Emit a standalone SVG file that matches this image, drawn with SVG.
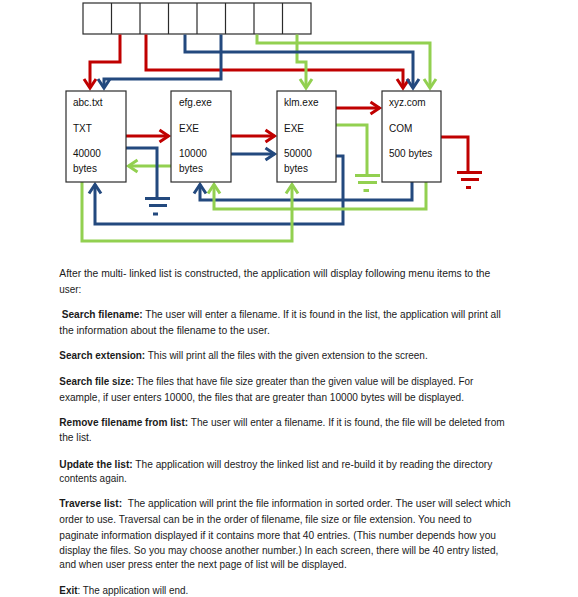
<svg xmlns="http://www.w3.org/2000/svg" width="578" height="597" viewBox="0 0 578 597">
<style>
.box{fill:#fff;stroke:#2b2b2b;stroke-width:1.2}
.lbl{font-family:"Liberation Sans",Arial,sans-serif;font-size:10px;fill:#111}
.body{font-family:"Liberation Sans",Arial,sans-serif;font-size:10.5px;fill:#1a1a1a}
.b{font-weight:bold}
.c{fill:none;stroke-width:3;stroke-linejoin:miter}
.r{stroke:#C00000}
.u{stroke:#23497E}
.g{stroke:#92D050}
.gr{fill:none;stroke-width:3}
</style>
<defs>
<marker id="mr" viewBox="-12 -9 14 18" refX="0" refY="0" markerWidth="14" markerHeight="18" markerUnits="userSpaceOnUse" orient="auto" overflow="visible"><path d="M-9,-6 L0,0 L-9,6" fill="none" stroke="#C00000" stroke-width="3"/></marker>
<marker id="mu" viewBox="-12 -9 14 18" refX="0" refY="0" markerWidth="14" markerHeight="18" markerUnits="userSpaceOnUse" orient="auto" overflow="visible"><path d="M-9,-6 L0,0 L-9,6" fill="none" stroke="#23497E" stroke-width="3"/></marker>
<marker id="mg" viewBox="-12 -9 14 18" refX="0" refY="0" markerWidth="14" markerHeight="18" markerUnits="userSpaceOnUse" orient="auto" overflow="visible"><path d="M-9,-6 L0,0 L-9,6" fill="none" stroke="#92D050" stroke-width="3"/></marker>
</defs>

<g id="array">
<rect x="83" y="3" width="228" height="31" class="box"/>
<path d="M111.5,3V34M140,3V34M168.5,3V34M197,3V34M225.5,3V34M254,3V34M282.5,3V34" stroke="#2b2b2b" stroke-width="1.2"/>
</g>

<g id="connectors">
<path class="c r" d="M120,34.5V62H90V88" marker-end="url(#mr)"/>
<path class="c r" d="M146,34.5V70H403V88" marker-end="url(#mr)"/>
<path class="c r" d="M126,136H168.5" marker-end="url(#mr)"/>
<path class="c r" d="M231,136H274.5" marker-end="url(#mr)"/>
<path class="c r" d="M336,108H379.5" marker-end="url(#mr)"/>
<path class="c r" d="M441,137H468V172"/>
<path class="c g" d="M257,34.5V43H430V88" marker-end="url(#mg)"/>
<path class="c g" d="M297,34.5V62H306V88" marker-end="url(#mg)"/>
<path class="c g" d="M171,166H128.5" marker-end="url(#mg)"/>
<path class="c g" d="M336,125H367V175"/>
<path class="c u" d="M185,34.5V52H413V88" marker-end="url(#mu)"/>
<path class="c u" d="M221,34.5V79H104V88" marker-end="url(#mu)"/>
<path class="c u" d="M126,148H157V198"/>
<path class="c u" d="M231,154H274.5" marker-end="url(#mu)"/>
<path class="c u" d="M336,156H343V224H95V184.5" marker-end="url(#mu)"/>
<path class="c u" d="M412,182V200H200V184.5" marker-end="url(#mu)"/>
<path class="c g" d="M426,182V209H214V184.5" marker-end="url(#mg)"/>
<path class="c g" d="M82,182V241H292V184.5" marker-end="url(#mg)"/>
</g>

<g id="ground-blue" class="gr u"><path d="M145,198.5H170M149,205.5H167M153,214H158"/></g>
<g id="ground-green" class="gr g"><path d="M355,175.5H380M358,182.5H377M363.5,190.5H369"/></g>
<g id="ground-red" class="gr r"><path d="M457,172.5H482M461,179.5H479M466,187.5H471"/></g>

<g id="abc">
<rect x="66" y="91" width="60" height="91" class="box"/>
<text class="lbl" x="73" y="105.5">abc.txt</text>
<text class="lbl" x="73" y="131.5">TXT</text>
<text class="lbl" x="73" y="156.5">40000</text>
<text class="lbl" x="73" y="172">bytes</text>
</g>
<g id="efg">
<rect x="171" y="91" width="60" height="91" class="box"/>
<text class="lbl" x="179" y="105.5">efg.exe</text>
<text class="lbl" x="179" y="131.5">EXE</text>
<text class="lbl" x="179" y="156.5">10000</text>
<text class="lbl" x="179" y="172">bytes</text>
</g>
<g id="klm">
<rect x="277" y="91" width="59" height="91" class="box"/>
<text class="lbl" x="284" y="105.5">klm.exe</text>
<text class="lbl" x="284" y="131.5">EXE</text>
<text class="lbl" x="284" y="156.5">50000</text>
<text class="lbl" x="284" y="172">bytes</text>
</g>
<g id="xyz">
<rect x="382" y="91" width="59" height="91" class="box"/>
<text class="lbl" x="389" y="105.5">xyz.com</text>
<text class="lbl" x="389" y="131.5">COM</text>
<text class="lbl" x="389" y="156.5">500 bytes</text>
</g>

<g id="text" class="body">
<text x="59.3" y="277" textLength="431" lengthAdjust="spacingAndGlyphs">After the multi- linked list is constructed, the application will display following menu items to the</text>
<text x="59.3" y="292.5" textLength="22" lengthAdjust="spacingAndGlyphs">user:</text>
<text x="61.7" y="318" textLength="439" lengthAdjust="spacingAndGlyphs"><tspan class="b">Search filename:</tspan> The user will enter a filename. If it is found in the list, the application will print all</text>
<text x="59.3" y="334" textLength="210.5" lengthAdjust="spacingAndGlyphs">the information about the filename to the user.</text>
<text x="59.3" y="359" textLength="368.4" lengthAdjust="spacingAndGlyphs"><tspan class="b">Search extension:</tspan> This will print all the files with the given extension to the screen.</text>
<text x="59.3" y="384.5" textLength="414" lengthAdjust="spacingAndGlyphs"><tspan class="b">Search file size:</tspan> The files that have file size greater than the given value will be displayed. For</text>
<text x="59.3" y="400.5" textLength="404.7" lengthAdjust="spacingAndGlyphs">example, if user enters 10000, the files that are greater than 10000 bytes will be displayed.</text>
<text x="59.3" y="425.5" textLength="445.4" lengthAdjust="spacingAndGlyphs"><tspan class="b">Remove filename from list:</tspan> The user will enter a filename. If it is found, the file will be deleted from</text>
<text x="59.3" y="441" textLength="32.4" lengthAdjust="spacingAndGlyphs">the list.</text>
<text x="59.3" y="467.5" textLength="433" lengthAdjust="spacingAndGlyphs"><tspan class="b">Update the list:</tspan> The application will destroy the linked list and re-build it by reading the directory</text>
<text x="59.3" y="482" textLength="67.4" lengthAdjust="spacingAndGlyphs">contents again.</text>
<text x="59.3" y="507" textLength="451.4" lengthAdjust="spacingAndGlyphs"><tspan class="b">Traverse list:</tspan> &#160;The application will print the file information in sorted order. The user will select which</text>
<text x="59.3" y="523" textLength="412.4" lengthAdjust="spacingAndGlyphs">order to use. Traversal can be in the order of filename, file size or file extension. You need to</text>
<text x="59.3" y="539" textLength="436.7" lengthAdjust="spacingAndGlyphs">paginate information displayed if it contains more that 40 entries. (This number depends how you</text>
<text x="59.3" y="553.5" textLength="439" lengthAdjust="spacingAndGlyphs">display the files. So you may choose another number.) In each screen, there will be 40 entry listed,</text>
<text x="59.3" y="567.5" textLength="287.4" lengthAdjust="spacingAndGlyphs">and when user press enter the next page of list will be displayed.</text>
<text x="59.3" y="593.5" textLength="129" lengthAdjust="spacingAndGlyphs"><tspan class="b">Exit</tspan>: The application will end.</text>
</g>
</svg>
